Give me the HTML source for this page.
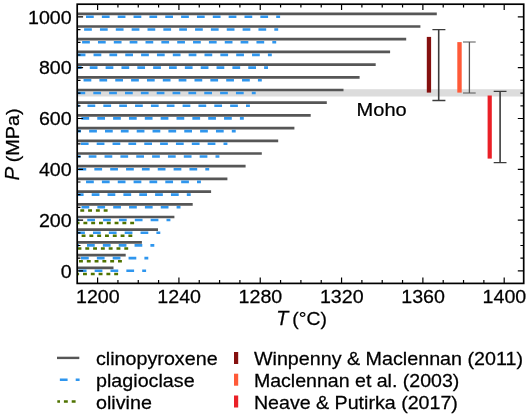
<!DOCTYPE html>
<html><head><meta charset="utf-8"><title>Figure</title>
<style>html,body{margin:0;padding:0;background:#fff}svg{display:block}</style></head>
<body>
<svg width="529" height="417" viewBox="0 0 529 417" font-family="'Liberation Sans', Arial, Helvetica, sans-serif">
<rect width="529" height="417" fill="#fff"/>
<defs><clipPath id="ax"><rect x="77.2" y="4.2" width="446.50" height="279.20"/></clipPath></defs>
<g clip-path="url(#ax)">
<rect x="77.2" y="89.2" width="446.50" height="7.3" fill="#dcdcdc"/>
<line x1="72.2" x2="436.8" y1="13.80" y2="13.80" stroke="#565656" stroke-width="2.7"/>
<line x1="280.1" x2="72.2" y1="16.80" y2="16.80" stroke="#2f96ee" stroke-width="2.6" stroke-dasharray="7.75 8.1" stroke-dashoffset="3.85"/>
<line x1="72.2" x2="420.4" y1="26.50" y2="26.50" stroke="#565656" stroke-width="2.7"/>
<line x1="278.2" x2="72.2" y1="29.50" y2="29.50" stroke="#2f96ee" stroke-width="2.6" stroke-dasharray="7.75 8.1" stroke-dashoffset="3.85"/>
<line x1="72.2" x2="406.2" y1="39.20" y2="39.20" stroke="#565656" stroke-width="2.7"/>
<line x1="276.2" x2="72.2" y1="42.20" y2="42.20" stroke="#2f96ee" stroke-width="2.6" stroke-dasharray="7.75 8.1" stroke-dashoffset="3.85"/>
<line x1="72.2" x2="390.1" y1="51.90" y2="51.90" stroke="#565656" stroke-width="2.7"/>
<line x1="271.8" x2="72.2" y1="54.90" y2="54.90" stroke="#2f96ee" stroke-width="2.6" stroke-dasharray="7.75 8.1" stroke-dashoffset="3.85"/>
<line x1="72.2" x2="375.7" y1="64.60" y2="64.60" stroke="#565656" stroke-width="2.7"/>
<line x1="268.0" x2="72.2" y1="67.60" y2="67.60" stroke="#2f96ee" stroke-width="2.6" stroke-dasharray="7.75 8.1" stroke-dashoffset="3.85"/>
<line x1="72.2" x2="359.6" y1="77.30" y2="77.30" stroke="#565656" stroke-width="2.7"/>
<line x1="261.8" x2="72.2" y1="80.30" y2="80.30" stroke="#2f96ee" stroke-width="2.6" stroke-dasharray="7.75 8.1" stroke-dashoffset="3.85"/>
<line x1="72.2" x2="343.5" y1="90.00" y2="90.00" stroke="#565656" stroke-width="2.7"/>
<line x1="255.7" x2="72.2" y1="93.00" y2="93.00" stroke="#2f96ee" stroke-width="2.6" stroke-dasharray="7.75 8.1" stroke-dashoffset="3.85"/>
<line x1="72.2" x2="326.8" y1="102.70" y2="102.70" stroke="#565656" stroke-width="2.7"/>
<line x1="249.9" x2="72.2" y1="105.70" y2="105.70" stroke="#2f96ee" stroke-width="2.6" stroke-dasharray="7.75 8.1" stroke-dashoffset="3.85"/>
<line x1="72.2" x2="310.7" y1="115.40" y2="115.40" stroke="#565656" stroke-width="2.7"/>
<line x1="243.8" x2="72.2" y1="118.40" y2="118.40" stroke="#2f96ee" stroke-width="2.6" stroke-dasharray="7.75 8.1" stroke-dashoffset="3.85"/>
<line x1="72.2" x2="294.4" y1="128.10" y2="128.10" stroke="#565656" stroke-width="2.7"/>
<line x1="235.7" x2="72.2" y1="131.10" y2="131.10" stroke="#2f96ee" stroke-width="2.6" stroke-dasharray="7.75 8.1" stroke-dashoffset="3.85"/>
<line x1="72.2" x2="278.2" y1="140.80" y2="140.80" stroke="#565656" stroke-width="2.7"/>
<line x1="227.4" x2="72.2" y1="143.80" y2="143.80" stroke="#2f96ee" stroke-width="2.6" stroke-dasharray="7.75 8.1" stroke-dashoffset="3.85"/>
<line x1="72.2" x2="261.8" y1="153.50" y2="153.50" stroke="#565656" stroke-width="2.7"/>
<line x1="219.4" x2="72.2" y1="156.50" y2="156.50" stroke="#2f96ee" stroke-width="2.6" stroke-dasharray="7.75 8.1" stroke-dashoffset="3.85"/>
<line x1="72.2" x2="245.6" y1="166.20" y2="166.20" stroke="#565656" stroke-width="2.7"/>
<line x1="209.2" x2="72.2" y1="169.20" y2="169.20" stroke="#2f96ee" stroke-width="2.6" stroke-dasharray="7.75 8.1" stroke-dashoffset="3.85"/>
<line x1="72.2" x2="227.4" y1="178.90" y2="178.90" stroke="#565656" stroke-width="2.7"/>
<line x1="200.9" x2="72.2" y1="181.90" y2="181.90" stroke="#2f96ee" stroke-width="2.6" stroke-dasharray="7.75 8.1" stroke-dashoffset="3.85"/>
<line x1="72.2" x2="211.1" y1="191.60" y2="191.60" stroke="#565656" stroke-width="2.7"/>
<line x1="190.7" x2="72.2" y1="194.60" y2="194.60" stroke="#2f96ee" stroke-width="2.6" stroke-dasharray="7.75 8.1" stroke-dashoffset="3.85"/>
<line x1="72.2" x2="192.7" y1="204.30" y2="204.30" stroke="#565656" stroke-width="2.7"/>
<line x1="180.5" x2="72.2" y1="207.30" y2="207.30" stroke="#2f96ee" stroke-width="2.6" stroke-dasharray="7.75 8.1" stroke-dashoffset="3.85"/>
<line x1="107.6" x2="72.2" y1="210.40" y2="210.40" stroke="#4f7300" stroke-width="2.5" stroke-dasharray="3.9 3.9"/>
<line x1="72.2" x2="174.4" y1="217.00" y2="217.00" stroke="#565656" stroke-width="2.7"/>
<line x1="170.4" x2="72.2" y1="220.00" y2="220.00" stroke="#2f96ee" stroke-width="2.6" stroke-dasharray="7.75 8.1" stroke-dashoffset="3.85"/>
<line x1="134.1" x2="72.2" y1="223.10" y2="223.10" stroke="#4f7300" stroke-width="2.5" stroke-dasharray="3.9 3.9"/>
<line x1="72.2" x2="158.0" y1="229.70" y2="229.70" stroke="#565656" stroke-width="2.7"/>
<line x1="160.3" x2="72.2" y1="232.70" y2="232.70" stroke="#2f96ee" stroke-width="2.6" stroke-dasharray="7.75 8.1" stroke-dashoffset="3.85"/>
<line x1="132.3" x2="72.2" y1="235.80" y2="235.80" stroke="#4f7300" stroke-width="2.5" stroke-dasharray="3.9 3.9"/>
<line x1="72.2" x2="141.9" y1="242.40" y2="242.40" stroke="#565656" stroke-width="2.7"/>
<line x1="154.3" x2="72.2" y1="245.40" y2="245.40" stroke="#2f96ee" stroke-width="2.6" stroke-dasharray="7.75 8.1" stroke-dashoffset="3.85"/>
<line x1="128.2" x2="72.2" y1="248.50" y2="248.50" stroke="#4f7300" stroke-width="2.5" stroke-dasharray="3.9 3.9"/>
<line x1="72.2" x2="125.7" y1="255.10" y2="255.10" stroke="#565656" stroke-width="2.7"/>
<line x1="148.3" x2="72.2" y1="258.10" y2="258.10" stroke="#2f96ee" stroke-width="2.6" stroke-dasharray="7.75 8.1" stroke-dashoffset="3.85"/>
<line x1="121.9" x2="72.2" y1="261.20" y2="261.20" stroke="#4f7300" stroke-width="2.5" stroke-dasharray="3.9 3.9"/>
<line x1="72.2" x2="113.5" y1="267.80" y2="267.80" stroke="#565656" stroke-width="2.7"/>
<line x1="146.1" x2="72.2" y1="270.80" y2="270.80" stroke="#2f96ee" stroke-width="2.6" stroke-dasharray="7.75 8.1" stroke-dashoffset="3.85"/>
<line x1="118.1" x2="72.2" y1="273.90" y2="273.90" stroke="#4f7300" stroke-width="2.5" stroke-dasharray="3.9 3.9"/>
</g>
<rect x="426.8" y="36.9" width="4.30" height="55.70" fill="#85100f"/>
<path d="M438.7 29.7V100.5" stroke="#3c3c3c" stroke-width="1.6" fill="none"/><path d="M432.4 29.7H445.4M432.4 100.5H445.4" stroke="#3c3c3c" stroke-width="1.3" fill="none"/>
<rect x="457.3" y="42.1" width="4.40" height="50.50" fill="#ff5a38"/>
<path d="M469.4 42.0V93.0" stroke="#555" stroke-width="1.3" fill="none"/><path d="M463.0 42.0H475.7M463.0 93.0H475.7" stroke="#555" stroke-width="1.0" fill="none"/>
<rect x="487.6" y="95.5" width="4.20" height="63.10" fill="#ea2027"/>
<path d="M500.1 91.4V162.7" stroke="#3c3c3c" stroke-width="1.6" fill="none"/><path d="M493.7 91.4H506.5M493.7 162.7H506.5" stroke="#3c3c3c" stroke-width="1.3" fill="none"/>
<path d="M97.60 283.4v-5.9M97.60 4.2v5.9M117.93 283.4v-3.3M117.93 4.2v3.3M138.26 283.4v-3.3M138.26 4.2v3.3M158.59 283.4v-3.3M158.59 4.2v3.3M178.92 283.4v-5.9M178.92 4.2v5.9M199.25 283.4v-3.3M199.25 4.2v3.3M219.58 283.4v-3.3M219.58 4.2v3.3M239.91 283.4v-3.3M239.91 4.2v3.3M260.24 283.4v-5.9M260.24 4.2v5.9M280.57 283.4v-3.3M280.57 4.2v3.3M300.90 283.4v-3.3M300.90 4.2v3.3M321.23 283.4v-3.3M321.23 4.2v3.3M341.56 283.4v-5.9M341.56 4.2v5.9M361.89 283.4v-3.3M361.89 4.2v3.3M382.22 283.4v-3.3M382.22 4.2v3.3M402.55 283.4v-3.3M402.55 4.2v3.3M422.88 283.4v-5.9M422.88 4.2v5.9M443.21 283.4v-3.3M443.21 4.2v3.3M463.54 283.4v-3.3M463.54 4.2v3.3M483.87 283.4v-3.3M483.87 4.2v3.3M504.20 283.4v-5.9M504.20 4.2v5.9M77.2 270.90h5.9M523.7 270.90h-5.9M77.2 258.20h3.3M523.7 258.20h-3.3M77.2 245.50h3.3M523.7 245.50h-3.3M77.2 232.80h3.3M523.7 232.80h-3.3M77.2 220.10h5.9M523.7 220.10h-5.9M77.2 207.40h3.3M523.7 207.40h-3.3M77.2 194.70h3.3M523.7 194.70h-3.3M77.2 182.00h3.3M523.7 182.00h-3.3M77.2 169.30h5.9M523.7 169.30h-5.9M77.2 156.60h3.3M523.7 156.60h-3.3M77.2 143.90h3.3M523.7 143.90h-3.3M77.2 131.20h3.3M523.7 131.20h-3.3M77.2 118.50h5.9M523.7 118.50h-5.9M77.2 105.80h3.3M523.7 105.80h-3.3M77.2 93.10h3.3M523.7 93.10h-3.3M77.2 80.40h3.3M523.7 80.40h-3.3M77.2 67.70h5.9M523.7 67.70h-5.9M77.2 55.00h3.3M523.7 55.00h-3.3M77.2 42.30h3.3M523.7 42.30h-3.3M77.2 29.60h3.3M523.7 29.60h-3.3M77.2 16.90h5.9M523.7 16.90h-5.9" stroke="#000" stroke-width="1.2" fill="none"/>
<rect x="77.2" y="4.2" width="446.50" height="279.20" fill="none" stroke="#000" stroke-width="1.7"/>
<text transform="translate(97.80 303.30) scale(1.04 1)" font-size="18.9" text-anchor="middle" stroke="#000" stroke-width="0.25">1200</text>
<text transform="translate(179.12 303.30) scale(1.04 1)" font-size="18.9" text-anchor="middle" stroke="#000" stroke-width="0.25">1240</text>
<text transform="translate(260.44 303.30) scale(1.04 1)" font-size="18.9" text-anchor="middle" stroke="#000" stroke-width="0.25">1280</text>
<text transform="translate(341.76 303.30) scale(1.04 1)" font-size="18.9" text-anchor="middle" stroke="#000" stroke-width="0.25">1320</text>
<text transform="translate(423.08 303.30) scale(1.04 1)" font-size="18.9" text-anchor="middle" stroke="#000" stroke-width="0.25">1360</text>
<text transform="translate(504.40 303.30) scale(1.04 1)" font-size="18.9" text-anchor="middle" stroke="#000" stroke-width="0.25">1400</text>
<text transform="translate(71.70 277.50) scale(1.04 1)" font-size="18.9" text-anchor="end" stroke="#000" stroke-width="0.25">0</text>
<text transform="translate(71.70 226.70) scale(1.04 1)" font-size="18.9" text-anchor="end" stroke="#000" stroke-width="0.25">200</text>
<text transform="translate(71.70 175.90) scale(1.04 1)" font-size="18.9" text-anchor="end" stroke="#000" stroke-width="0.25">400</text>
<text transform="translate(71.70 125.10) scale(1.04 1)" font-size="18.9" text-anchor="end" stroke="#000" stroke-width="0.25">600</text>
<text transform="translate(71.70 74.30) scale(1.04 1)" font-size="18.9" text-anchor="end" stroke="#000" stroke-width="0.25">800</text>
<text transform="translate(71.70 23.50) scale(1.04 1)" font-size="18.9" text-anchor="end" stroke="#000" stroke-width="0.25">1000</text>
<text transform="translate(301.50 325.20) scale(1.02 1)" font-size="18.9" text-anchor="middle" stroke="#000" stroke-width="0.25"><tspan font-style="italic" font-size="19.3">T</tspan><tspan dx="-1.2"> (°C)</tspan></text>
<text transform="translate(19.20 144.40) rotate(-90) scale(1.05 1)" font-size="18.9" text-anchor="middle" stroke="#000" stroke-width="0.25"><tspan font-style="italic" font-size="19.6">P</tspan><tspan dx="-1.0"> (MPa)</tspan></text>
<text transform="translate(356.60 116.30) scale(1.065 1)" font-size="18.8" stroke="#000" stroke-width="0.25">Moho</text>
<line x1="57" x2="79.3" y1="357.9" y2="357.9" stroke="#565656" stroke-width="2.4"/>
<line x1="79.6" x2="57" y1="379.7" y2="379.7" stroke="#2f96ee" stroke-width="2.6" stroke-dasharray="7.75 8.1" stroke-dashoffset="3.85"/>
<line x1="75.6" x2="57.3" y1="401.5" y2="401.5" stroke="#4f7300" stroke-width="2.5" stroke-dasharray="3.9 3.9"/>
<text transform="translate(96.00 365.20) scale(1.06 1)" font-size="18.6" stroke="#000" stroke-width="0.25">clinopyroxene</text>
<text transform="translate(96.00 386.90) scale(1.06 1)" font-size="18.6" stroke="#000" stroke-width="0.25">plagioclase</text>
<text transform="translate(96.00 408.70) scale(1.06 1)" font-size="18.6" stroke="#000" stroke-width="0.25">olivine</text>
<rect x="234" y="352.00" width="4.2" height="12" fill="#85100f"/>
<text transform="translate(253.90 365.20) scale(1.06 1)" font-size="18.6" stroke="#000" stroke-width="0.25">Winpenny &amp; Maclennan (2011)</text>
<rect x="234" y="373.70" width="4.2" height="12" fill="#ff5a38"/>
<text transform="translate(253.90 386.90) scale(1.052 1)" font-size="18.6" stroke="#000" stroke-width="0.25">Maclennan et al. (2003)</text>
<rect x="234" y="395.50" width="4.2" height="12" fill="#ea2027"/>
<text transform="translate(253.90 408.70) scale(1.056 1)" font-size="18.6" stroke="#000" stroke-width="0.25">Neave &amp; Putirka (2017)</text>
</svg>
</body></html>
